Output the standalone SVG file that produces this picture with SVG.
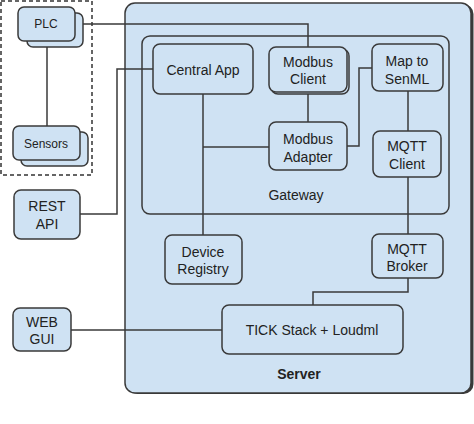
<svg xmlns="http://www.w3.org/2000/svg" width="474" height="424" viewBox="0 0 474 424">
<style>
.b{fill:#cfe2f3;stroke:#3a3a3a;stroke-width:1.5}
.t{font-family:"Liberation Sans",Arial,sans-serif;font-size:14px;fill:#222;text-anchor:middle}
.s{font-size:12px}
.c{fill:none;stroke:#3a3a3a;stroke-width:1.5}
</style>
<rect width="474" height="424" fill="#fff"/>
<g id="server">
<rect x="127.5" y="4" width="346" height="390" rx="10" fill="#3a3a3a"/>
<rect class="b" x="125" y="3" width="346" height="390" rx="10"/>
<text class="t" x="299" y="379" font-weight="bold">Server</text>
</g>
<g id="gateway">
<rect class="b" x="142" y="36" width="307" height="178" rx="8"/>
<text class="t" x="296" y="200">Gateway</text>
</g>
<g id="field">
<rect x="1" y="1" width="91" height="174" fill="none" stroke="#333" stroke-width="1.5" stroke-dasharray="4,3"/>
</g>
<g id="connectors" class="c">
<path d="M47 41V126"/>
<path d="M83 24H308V47"/>
<path d="M308 92V122"/>
<path d="M408 91V131"/>
<path d="M408 177V234"/>
<path d="M347 146H359V68H372"/>
<path d="M203 94V235"/>
<path d="M203 147H269"/>
<path d="M80 214H117V69H153"/>
<path d="M408 278V292H313V305"/>
<path d="M71 330H222"/>
</g>
<g id="plc">
<rect class="b" x="27" y="13" width="56" height="34" rx="6"/>
<rect class="b" x="18" y="7" width="57" height="34" rx="6"/>
<text class="t s" x="46" y="28">PLC</text>
</g>
<g id="sensors">
<rect class="b" x="21" y="132" width="67" height="34" rx="6"/>
<rect class="b" x="13" y="126" width="67" height="34" rx="6"/>
<text class="t s" x="46" y="148">Sensors</text>
</g>
<g id="central-app">
<rect class="b" x="153" y="44" width="100" height="50" rx="7"/>
<text class="t" x="203" y="75">Central App</text>
</g>
<g id="modbus-client">
<rect class="b" x="271" y="49" width="78" height="45" rx="7"/>
<rect class="b" x="269" y="47" width="78" height="45" rx="7"/>
<text class="t" x="308" y="67">Modbus</text>
<text class="t" x="308" y="84">Client</text>
</g>
<g id="map-senml">
<rect class="b" x="372" y="44" width="71" height="47" rx="7"/>
<text class="t" x="407" y="66">Map to</text>
<text class="t" x="407" y="84">SenML</text>
</g>
<g id="modbus-adapter">
<rect class="b" x="269" y="122" width="78" height="48" rx="7"/>
<text class="t" x="308" y="144">Modbus</text>
<text class="t" x="308" y="162">Adapter</text>
</g>
<g id="mqtt-client">
<rect class="b" x="373" y="131" width="68" height="46" rx="7"/>
<text class="t" x="407" y="151">MQTT</text>
<text class="t" x="407" y="169">Client</text>
</g>
<g id="rest-api">
<rect class="b" x="14" y="190" width="66" height="49" rx="7"/>
<text class="t" x="47" y="211">REST</text>
<text class="t" x="47" y="229">API</text>
</g>
<g id="device-registry">
<rect class="b" x="165" y="235" width="77" height="49" rx="7"/>
<text class="t" x="203" y="257">Device</text>
<text class="t" x="203" y="274">Registry</text>
</g>
<g id="mqtt-broker">
<rect class="b" x="372" y="234" width="71" height="44" rx="7"/>
<text class="t" x="407" y="254">MQTT</text>
<text class="t" x="407" y="271">Broker</text>
</g>
<g id="tick">
<rect class="b" x="222" y="305" width="181" height="49" rx="7"/>
<text class="t" x="312" y="335">TICK Stack + Loudml</text>
</g>
<g id="web-gui">
<rect class="b" x="13" y="308" width="58" height="43" rx="7"/>
<text class="t" x="42" y="327">WEB</text>
<text class="t" x="42" y="344">GUI</text>
</g>
</svg>
